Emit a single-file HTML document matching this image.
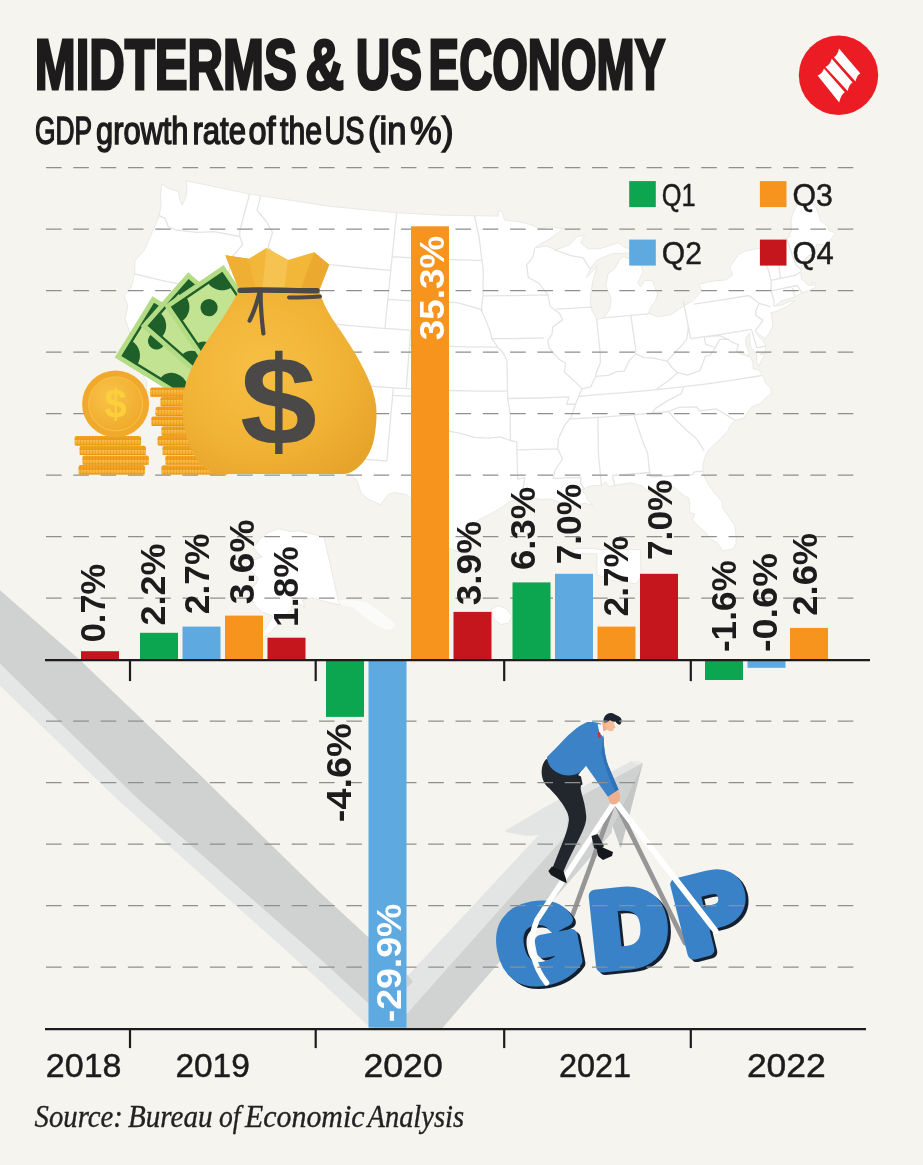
<!DOCTYPE html>
<html lang="en">
<head>
<meta charset="utf-8">
<title>Midterms &amp; US Economy</title>
<style>
html,body{margin:0;padding:0;background:#f5f4ef;}
body{width:923px;height:1165px;overflow:hidden;font-family:"Liberation Sans",sans-serif;}
svg{display:block}
.t{font-family:"Liberation Sans",sans-serif;font-weight:bold;fill:#1d1b1c}
.v{font-family:"Liberation Sans",sans-serif;font-weight:bold;font-size:35.5px;fill:#1d1b1c}
.y{font-family:"Liberation Sans",sans-serif;font-size:33px;fill:#1d1b1c;stroke:#1d1b1c;stroke-width:0.45px}
.s{font-family:"Liberation Serif",serif;font-style:italic;font-size:31.5px;fill:#222;stroke:#222;stroke-width:0.35px}
</style>
</head>
<body>
<svg width="923" height="1165" viewBox="0 0 923 1165">
<rect width="923" height="1165" fill="#f5f4ef"/>

<g id="us-map">
<path d="M161.7 183.7 L168.5 188.4 L178.3 191.5 L180.1 200.2 L182.1 205.1 L186.0 197.1 L187.1 186.9 L186.2 180.7 L249.6 194.0 L328.9 206.2 L396.6 212.7 L442.8 215.2 L498.3 216.1 L498.2 210.6 L502.2 211.7 L504.6 220.0 L518.5 221.6 L528.9 224.2 L540.7 228.6 L548.7 226.4 L562.8 228.6 L551.8 237.8 L540.4 244.1 L534.7 247.9 L545.3 246.1 L550.1 247.3 L555.0 250.0 L568.9 245.0 L577.5 236.4 L584.4 235.3 L580.5 242.8 L588.2 248.8 L600.1 248.7 L618.4 242.7 L623.7 246.6 L630.0 248.9 L633.1 253.0 L623.5 253.2 L612.7 253.5 L601.2 258.1 L595.6 261.4 L590.4 269.1 L586.4 277.5 L590.8 272.8 L597.3 265.7 L592.9 280.7 L591.0 292.6 L590.2 302.9 L592.4 311.6 L597.0 319.4 L604.5 317.4 L609.8 308.8 L611.1 298.4 L605.8 285.6 L608.0 273.7 L614.7 268.7 L619.5 259.5 L623.3 256.5 L631.7 259.8 L640.7 263.2 L643.3 271.8 L637.6 282.7 L640.7 286.8 L644.7 280.5 L652.2 280.4 L657.6 293.9 L655.6 300.8 L651.4 306.4 L648.1 313.4 L658.3 316.8 L670.8 314.6 L684.5 305.4 L693.0 300.6 L702.0 291.1 L698.6 284.5 L711.1 281.2 L726.0 279.9 L732.4 275.0 L729.8 267.2 L738.4 254.5 L744.9 251.1 L761.4 247.9 L782.5 243.6 L783.5 238.8 L788.7 237.7 L791.6 229.5 L791.0 222.0 L792.0 215.7 L797.5 203.1 L802.0 205.8 L808.0 202.1 L815.0 204.6 L820.9 221.0 L827.0 225.6 L829.3 230.3 L835.7 233.3 L830.4 240.1 L823.2 244.9 L816.6 244.2 L815.3 251.4 L808.0 256.1 L803.2 261.0 L800.8 269.2 L800.9 273.7 L801.3 279.0 L804.7 281.3 L807.9 285.2 L814.4 285.2 L811.4 281.8 L815.0 282.8 L816.1 287.1 L808.9 290.3 L804.2 292.1 L799.5 293.9 L794.6 297.2 L781.8 300.6 L774.3 306.2 L781.9 305.1 L789.9 301.2 L795.1 300.9 L787.5 306.3 L775.8 311.6 L770.8 312.6 L772.0 316.9 L772.9 325.1 L769.6 332.5 L765.2 338.6 L759.4 334.4 L755.0 330.6 L758.5 336.0 L764.0 341.8 L766.0 346.8 L764.7 354.6 L760.9 361.3 L758.9 366.9 L756.6 360.5 L756.5 354.5 L750.3 346.5 L749.8 339.0 L749.6 333.0 L745.6 338.2 L746.1 345.7 L749.2 352.7 L747.3 356.0 L740.6 351.1 L738.4 353.0 L750.3 357.1 L753.0 362.6 L753.1 368.6 L759.1 370.3 L762.5 375.4 L765.8 383.1 L770.7 388.3 L771.7 393.7 L766.0 397.4 L760.4 403.6 L752.5 406.4 L747.0 413.3 L743.2 418.3 L735.0 420.3 L729.8 426.3 L727.9 431.0 L719.6 439.7 L712.2 446.6 L707.9 450.8 L705.3 456.4 L703.0 464.1 L702.9 471.5 L704.7 477.2 L709.2 485.5 L715.3 493.7 L722.2 501.7 L722.6 507.5 L729.1 517.0 L734.6 525.1 L736.1 536.7 L736.0 544.1 L733.0 548.8 L723.1 551.2 L717.7 543.4 L709.7 538.5 L705.5 532.4 L700.0 527.9 L692.4 519.9 L694.5 513.8 L689.7 512.8 L689.8 504.0 L688.8 498.2 L682.1 494.5 L675.0 487.9 L667.0 484.3 L661.4 487.0 L653.1 492.2 L646.9 490.5 L641.8 485.8 L631.0 483.0 L619.2 484.5 L609.0 486.7 L605.6 481.8 L601.5 485.7 L592.6 485.5 L585.3 488.0 L581.1 490.4 L585.9 494.6 L587.9 500.3 L592.8 505.2 L585.1 503.4 L577.6 504.5 L567.2 506.4 L559.4 502.3 L550.2 498.9 L539.7 499.5 L529.1 496.9 L520.9 498.0 L509.8 501.8 L502.3 506.9 L490.3 514.2 L479.6 519.2 L471.9 526.3 L467.9 534.2 L467.7 542.9 L470.7 552.2 L463.6 553.2 L452.7 549.8 L440.4 544.4 L435.4 533.3 L434.2 527.5 L426.2 518.5 L419.1 508.0 L413.5 500.5 L406.4 494.6 L394.5 492.5 L388.4 494.4 L380.7 504.7 L368.3 499.2 L361.3 493.5 L356.8 480.0 L347.4 471.9 L337.0 460.7 L334.8 460.1 L310.9 457.6 L309.9 464.1 L268.0 459.0 L217.7 434.2 L219.9 431.3 L185.2 428.0 L184.5 420.8 L178.5 410.7 L172.1 407.2 L171.9 403.1 L162.7 399.3 L158.4 394.3 L146.2 391.3 L147.1 381.7 L141.0 371.3 L136.3 359.6 L139.1 353.4 L133.5 346.8 L134.9 338.7 L130.3 333.8 L125.1 318.9 L127.8 305.8 L124.0 295.6 L130.8 288.2 L134.7 273.9 L134.8 261.0 L144.0 250.3 L150.3 236.7 L159.0 216.2 L160.4 209.0 L161.3 204.7 L160.5 196.9 L161.7 183.7Z M259.6 539.3 L268.0 532.5 L278.7 528.6 L290.0 531.5 L300.0 531.0 L312.0 534.0 L324.0 537.0 L338.3 600.1 L340.6 605.0 L324.0 601.3 L312.0 597.7 L302.5 600.1 L305.0 607.3 L298.0 603.0 L295.4 600.1 L290.6 609.7 L284.0 618.0 L278.7 624.0 L269.0 633.5 L258.0 642.0 L244.0 650.0 L256.0 640.0 L266.0 628.0 L273.0 616.0 L262.0 612.0 L255.0 606.0 L252.0 600.0 L247.7 590.6 L256.0 584.0 L258.0 578.0 L250.0 570.0 L245.3 564.4 L251.3 561.0 L262.0 557.2 L257.0 552.0 L253.6 547.7Z M491.0 609.0 L498.0 605.5 L506.0 608.5 L512.0 616.0 L509.0 623.0 L501.0 624.5 L494.0 619.0Z M573.0 548.6 L597.0 548.6 L597.0 549.5 L640.5 549.5 L641.0 577.0 L636.0 584.0 L626.0 582.0 L614.0 581.0 L604.0 577.0 L597.0 575.0 L597.0 553.8 L573.0 553.8Z" fill="#ffffff" stroke="#e9e9e6" stroke-width="1"/>
<path d="M338.3 600.1 L355.0 600.3 L367.0 602.5 L381.0 612.0 L395.5 624.0 L392.0 629.0 L386.0 630.0 L376.0 625.0 L367.0 619.0 L352.6 607.3 L340.6 605.0Z" fill="#ffffff" fill-opacity="0.6"/>
<path d="M158.7 215.3 L165.1 218.4 L168.4 226.7 L176.1 230.0 L188.2 231.3 L196.6 232.4 L207.9 231.8 L215.4 231.8 L239.7 236.5 M134.7 273.9 L161.5 280.3 L188.5 286.2 L215.7 291.7 L243.0 296.6 L270.4 301.0 L297.9 304.9 M249.6 194.0 L239.8 230.6 L239.7 236.5 L242.8 244.5 L236.3 252.2 L230.2 258.5 L230.0 267.4 L223.1 293.0 M186.3 285.8 L173.1 328.3 L195.1 356.8 L229.0 398.8 L227.7 409.0 L222.5 421.6 L224.0 427.8 L219.9 431.3 M260.4 299.4 L241.0 383.6 L231.8 382.8 L229.0 398.8 M243.8 371.3 L272.8 375.7 L302.0 379.5 L331.2 382.8 L360.5 385.5 L389.9 387.7 L419.3 389.4 L448.7 390.5 L478.1 391.1 L507.5 391.2 M320.7 322.5 L297.5 462.7 M304.8 268.9 L295.2 319.3 L320.7 322.5 M320.7 322.5 L350.6 325.7 L380.6 328.2 L410.7 330.2 M306.2 261.7 L334.3 265.1 L362.5 268.0 L390.8 270.3 M260.7 196.0 L257.1 210.1 L266.7 222.0 L272.6 232.5 L268.0 247.3 L277.1 256.1 L281.2 265.6 L293.3 267.3 L304.8 268.9 M396.6 212.7 L384.9 328.5 M392.2 256.7 L422.0 258.5 L452.0 259.7 L481.9 260.3 M387.9 299.4 L422.6 301.5 L457.3 302.7 L466.1 305.1 L479.8 309.0 L483.0 310.4 M410.7 330.2 L409.6 344.8 M409.6 344.8 L439.0 346.1 L468.4 346.9 L497.8 347.1 M409.6 344.8 L406.2 388.7 M393.3 388.0 L386.8 461.0 M386.8 461.0 L334.5 456.8 M392.6 395.3 L433.8 397.4 M433.8 397.4 L432.4 425.8 L443.5 430.0 L460.4 433.4 L474.5 437.3 L488.7 438.2 L500.1 436.8 L510.4 440.5 M507.0 360.3 L507.7 398.5 L510.3 414.7 L510.4 440.5 L516.7 441.8 L517.6 479.1 L524.8 477.6 L522.9 489.3 L520.9 498.0 M516.9 449.8 L557.7 448.9 M507.7 398.5 L538.3 398.0 L568.9 396.9 L566.7 404.4 L575.7 404.0 M491.7 338.6 L517.9 338.5 L544.0 337.8 M483.0 295.8 L515.6 295.7 L548.0 294.8 M474.5 216.0 L479.2 237.6 L481.9 260.3 L483.2 269.6 L483.0 295.8 L481.1 310.4 L484.8 317.8 L490.6 332.5 L491.7 338.6 L497.8 347.1 L503.2 353.0 L507.0 360.3 M534.8 248.6 L532.8 257.4 L526.6 264.8 L528.3 277.2 L539.0 283.4 L548.0 294.8 L550.2 306.5 L559.6 313.4 L562.6 319.9 L552.8 326.9 L552.0 334.3 L547.8 340.3 L548.9 347.7 L558.8 359.1 L565.8 363.2 L564.4 372.1 L575.3 381.9 L582.0 388.9 L578.5 396.5 L575.7 404.0 L571.1 417.5 L564.7 425.1 L558.5 438.6 L557.7 448.9 L562.6 459.0 L554.6 471.0 L553.6 478.3 L581.1 477.3 L580.5 483.1 L583.9 488.8 M597.8 417.5 L598.5 454.3 L601.5 485.7 M633.9 414.9 L643.5 443.6 L647.7 453.6 L649.6 472.6 L651.0 476.9 M612.3 475.5 L650.4 472.5 M612.3 475.5 L614.9 485.6 M651.0 476.9 L680.5 475.5 L692.3 474.9 L694.7 471.7 L702.9 471.5 M568.5 419.0 L601.9 417.2 L635.3 414.7 L668.6 411.5 M578.5 396.5 L596.9 394.7 L624.6 392.7 L652.2 390.2 L679.8 387.2 L707.2 383.8 L734.6 379.9 L761.8 375.5 M582.0 388.9 L590.7 386.9 L595.7 376.3 L608.5 375.4 L616.1 371.9 L624.2 371.2 L629.4 360.4 L635.9 353.9 L643.7 357.6 L653.2 358.2 L667.1 361.1 L671.6 356.2 L676.1 351.2 L682.8 344.4 L686.5 339.4 L688.1 330.3 L688.1 325.2 M596.6 318.7 L600.3 353.8 L600.3 362.7 L596.1 373.3 L595.7 376.3 M630.9 315.9 L636.3 353.9 M603.3 317.9 L648.2 313.9 M556.2 309.2 L591.9 307.2 M555.0 250.0 L571.0 255.7 L583.2 257.9 L587.5 264.9 L590.4 269.1 M683.4 301.1 L690.7 338.6 M690.7 338.6 L721.1 334.3 L751.4 329.4 M693.7 304.2 L721.2 300.1 L748.5 295.5 M748.5 295.5 L752.4 297.9 L759.1 303.4 L755.8 310.8 L755.7 315.4 L762.9 320.1 L759.6 325.2 L755.0 330.6 M759.1 303.4 L770.4 306.6 M760.8 248.0 L764.3 262.4 L767.7 267.8 L771.1 280.3 L771.1 290.6 L774.2 301.3 L773.5 306.0 M782.5 243.6 L783.5 250.9 L780.0 257.7 L779.0 267.0 L780.5 278.4 M771.1 280.3 L795.0 275.4 L800.4 272.0 M771.2 290.9 L797.2 285.5 M792.0 286.6 L795.1 296.6 M797.2 285.5 L801.7 292.6 M786.4 238.2 L792.8 256.5 L796.2 264.9 L800.6 268.8 M751.4 329.4 L756.7 347.7 L765.8 346.1 M759.9 354.7 L764.3 353.1 M667.1 361.1 L672.3 368.0 L677.6 372.7 L687.2 375.2 L700.0 370.6 L705.3 356.4 L710.4 354.9 L715.5 347.5 L719.7 339.3 L728.1 339.3 L731.7 342.0 L738.4 344.7 L736.7 351.7 L741.0 352.6 M728.1 339.3 L719.6 335.6 L704.2 336.8 L705.7 344.4 L715.5 347.5 M677.6 372.7 L669.0 380.3 L656.7 389.0 M652.0 413.2 L668.6 411.5 L679.1 407.4 L696.6 406.8 L699.5 410.9 L716.1 408.8 L735.0 420.3 M668.6 411.5 L675.6 419.7 L687.5 431.0 L696.0 438.2 L704.2 450.6 M683.9 386.8 L681.0 393.8 L668.2 400.4 L655.5 408.4 L652.0 413.2" fill="none" stroke="#e4e4e2" stroke-width="1.3" stroke-linejoin="round"/>
</g>
<g id="trend-arrow">
<polygon points="0,590.3 81.3,661.2 200,775 320,892.5 369.5,938.3 369.5,1004.8 320,958.9 138.7,800 0,664" fill="#d0d1d1"/>
<polygon points="0,664 138.7,800 320,958.9 369.5,1004.8 369.5,1027 320,981 118,800 0,685.7" fill="#e5e6e6"/>
<polygon points="372,1014 407,976.6 538.5,835.3 565.8,835 407,1013.5" fill="#e3e4e4"/>
<polygon points="407,1013.5 565.8,835 611.5,833 442.2,1028.2 372,1028.2" fill="#d1d2d2"/>
<path d="M505.7 832 Q504.6 830.6 507 829.6 L545.2 807.1 L593.1 781.3 L631.8 761 Q638 760.4 642.9 762.9 L565.8 835 L538.5 835.3 L526.8 835.8 Z" fill="#e3e4e4"/>
<path d="M631.8 761 Q638 760.4 642.9 762.9 L636 764.6 Z" fill="#ececeb"/>
<polygon points="565.8,835 570,802 642.9,762.9 612.5,826 611.5,833" fill="#d0d1d1"/>
<polygon points="642.9,762.9 620.8,848.5 612.5,826" fill="#c5c6c6"/>
<polygon id="vx" points="407,974.5 413,981.5 407,988" fill="#d0d1d1"/>
</g>

<g id="gdp-man">
<!-- grey ropes (behind letters) -->
<g fill="none" stroke="#969696" stroke-width="4.8" stroke-linecap="round">
<line x1="613.5" y1="803" x2="566" y2="933"/>
<line x1="616" y1="803" x2="685" y2="943"/>
</g>
<!-- GDP letters: shadow then face -->
<text x="506 595.5 687" y="986 967 955" rotate="-11 -6 -14" style="font-family:'Liberation Sans',sans-serif;font-weight:bold;font-size:103px;fill:#14202f;stroke:#14202f;stroke-width:12.5px;stroke-linejoin:round" transform="translate(3,2.5)">GDP</text>
<text x="506 595.5 687" y="986 967 955" rotate="-11 -6 -14" style="font-family:'Liberation Sans',sans-serif;font-weight:bold;font-size:103px;fill:#3a82c8;stroke:#3a82c8;stroke-width:12.5px;stroke-linejoin:round">GDP</text>
<!-- white ropes -->
<g fill="none" stroke="#ffffff" stroke-linecap="round" stroke-linejoin="round">
<path d="M613.2 804 L536.9 920 C531 935 531 948 533.6 956 C536 967 541 976 546.6 983" stroke-width="5.4"/>
<path d="M616.5 803 L715.6 931" stroke-width="6"/>
</g>
<!-- man: far leg -->
<path d="M572 772 L581 776.5 L582.6 784.5 L576 786 Z" fill="#1f242b"/>
<path d="M591.5 836 L597.5 834 L604 846 L600 850.5 L594 848 Z" fill="#1f242b"/>
<path d="M596 845 L604 848 L613 852 L612 856 L603 860 L598 856 Z" fill="#14181d"/>
<!-- near leg / trousers -->
<path d="M546.3 759 C541.5 764 540.8 772 542.4 778 C544 783 546 786 549.5 788.4 C556 795 560 800 562.5 804 C567 811 569.5 816 568.8 821 C568 828 566 833 564.5 837.5 L552.6 867.8 L563.4 871.5 C569 858 576 845 581.8 833 C585 826 586.6 821 586.2 815.8 C585.5 807 583.5 800 581.8 794 C580.5 789 580 786 582 784.5 L576.8 776.7 L585 766 L560 762 Z" fill="#22272e"/>
<path d="M552 866.5 L548.3 871.1 L551 875 L561.3 880.8 L566.7 883.3 L566 879 L563.4 871 Z" fill="#14181d"/>
<!-- jacket body -->
<path d="M587.2 722.1 C582 724.5 577 727.5 572.9 731.2 C566 737 560.5 743 556 748.1 C552 752 549 755 546.9 757.2 C547.5 762 548.8 765 550.8 767.6 C554 771.5 558 773.6 562.5 774.8 C566.5 775.6 570.5 775.6 574.2 774.8 C577.5 773.8 580 772.2 582 770.2 C583.6 768.8 585 767.2 585.9 765.7 L604 740 L601 723.5 C596.5 722 592 721.6 587.2 722.1 Z" fill="#3b82c6"/>
<!-- arm -->
<path d="M597 724 C601 726 603 731 603.5 737.7 C603.8 743 604.2 748 604.8 752 C605.6 757 606.6 761 608 765 L618.6 789.7 L608.3 797.2 L585.9 765.7 C586 752 589 735 597 724 Z" fill="#3b82c6"/>
<path d="M603.5 737.7 C603.8 743 604.2 748 604.8 752 C605.6 757 606.6 761 608 765 L618.6 789.7 L615.5 792 C610 780 604 766 601.5 752 Z" fill="#2f73b6"/>
<!-- hand -->
<path d="M608.3 796.5 L618 790 C620 793 620.5 797 619.5 800.5 C618 803.5 614.5 805 611.5 804.2 C609.3 802.5 608.3 799.5 608.3 796.5 Z" fill="#f0b08d"/>
<!-- shirt, tie, neck, face, hair -->
<path d="M597.6 724 L602.8 724.7 L603.4 737 L599.5 733 Z" fill="#ffffff"/>
<path d="M598.2 731.5 L600.3 732.8 L600.6 738 L597.8 737.2 Z" fill="#c0392b"/>
<path d="M602.2 722 L606 720.5 L608.5 729 L603.4 731.5 Z" fill="#f0b08d"/>
<path d="M604.8 720.5 C607 719 611 718.5 613.5 720.5 L614.2 724.5 L615.6 727.6 L613.8 728.4 L613.5 730.6 C611.5 731.6 609.5 731.4 608 730.6 C606 728 605 724.5 604.8 720.5 Z" fill="#f4bc98"/>
<path d="M603.5 719.8 C604 716 607 713 610.8 713 C613.5 713 615 714.5 617 715.5 C620 716.6 622 718.6 621.6 721.2 C621.2 723.4 620.4 724.6 619.4 724.8 C617.6 724.6 616.4 723 615.4 721.6 C613 721.8 611.5 721 610 720 C608.4 721.6 606.5 722.6 604.6 722.6 C603.8 721.8 603.4 720.8 603.5 719.8 Z" fill="#1c2431"/>
</g>

<g stroke="#8f8f8d" stroke-width="1.25" stroke-dasharray="15.6 11.7" fill="none">
<line x1="46" y1="167.6" x2="855.5" y2="167.6"/>
<line x1="46" y1="229.1" x2="855.5" y2="229.1"/>
<line x1="46" y1="290.6" x2="855.5" y2="290.6"/>
<line x1="46" y1="352.1" x2="855.5" y2="352.1"/>
<line x1="46" y1="413.6" x2="855.5" y2="413.6"/>
<line x1="46" y1="475.0" x2="855.5" y2="475.0"/>
<line x1="46" y1="536.5" x2="855.5" y2="536.5"/>
<line x1="46" y1="598.0" x2="855.5" y2="598.0"/>
<line x1="46" y1="721.0" x2="855.5" y2="721.0"/>
<line x1="46" y1="782.5" x2="855.5" y2="782.5"/>
<line x1="46" y1="844.0" x2="855.5" y2="844.0"/>
<line x1="46" y1="905.5" x2="855.5" y2="905.5"/>
<line x1="46" y1="967.0" x2="855.5" y2="967.0"/>
</g>
<text class="v" transform="translate(104.5,642.3) rotate(-90)" textLength="78.4" lengthAdjust="spacingAndGlyphs" style="fill:#1d1b1c">0.7%</text>
<text class="v" transform="translate(164.8,625.5) rotate(-90)" textLength="82.0" lengthAdjust="spacingAndGlyphs" style="fill:#1d1b1c">2.2%</text>
<text class="v" transform="translate(209.3,614.2) rotate(-90)" textLength="80.5" lengthAdjust="spacingAndGlyphs" style="fill:#1d1b1c">2.7%</text>
<text class="v" transform="translate(254.4,604.3) rotate(-90)" textLength="84.8" lengthAdjust="spacingAndGlyphs" style="fill:#1d1b1c">3.6%</text>
<text class="v" transform="translate(298.0,626.9) rotate(-90)" textLength="80.4" lengthAdjust="spacingAndGlyphs" style="fill:#1d1b1c">1.8%</text>
<text class="v" transform="translate(351.1,822.2) rotate(-90)" textLength="98.8" lengthAdjust="spacingAndGlyphs" style="fill:#1d1b1c">-4.6%</text>
<text class="v" transform="translate(481.3,605.2) rotate(-90)" textLength="84.2" lengthAdjust="spacingAndGlyphs" style="fill:#1d1b1c">3.9%</text>
<text class="v" transform="translate(535.3,570.0) rotate(-90)" textLength="83.3" lengthAdjust="spacingAndGlyphs" style="fill:#1d1b1c">6.3%</text>
<text class="v" transform="translate(581.3,564.3) rotate(-90)" textLength="80.4" lengthAdjust="spacingAndGlyphs" style="fill:#1d1b1c">7.0%</text>
<text class="v" transform="translate(627.8,616.5) rotate(-90)" textLength="80.5" lengthAdjust="spacingAndGlyphs" style="fill:#1d1b1c">2.7%</text>
<text class="v" transform="translate(671.9,560.1) rotate(-90)" textLength="80.6" lengthAdjust="spacingAndGlyphs" style="fill:#1d1b1c">7.0%</text>
<text class="v" transform="translate(735.8,652.1) rotate(-90)" textLength="91.9" lengthAdjust="spacingAndGlyphs" style="fill:#1d1b1c">-1.6%</text>
<text class="v" transform="translate(776.5,652.1) rotate(-90)" textLength="99.0" lengthAdjust="spacingAndGlyphs" style="fill:#1d1b1c">-0.6%</text>
<text class="v" transform="translate(817.0,615.7) rotate(-90)" textLength="82.9" lengthAdjust="spacingAndGlyphs" style="fill:#1d1b1c">2.6%</text>
<g id="money">
<defs>
<radialGradient id="bagG" cx="0.40" cy="0.42" r="0.70">
<stop offset="0" stop-color="#f6bf45"/><stop offset="0.6" stop-color="#f1b336"/><stop offset="1" stop-color="#e7a42b"/>
</radialGradient>
<linearGradient id="coinEdge" x1="0" y1="0" x2="0" y2="1">
<stop offset="0" stop-color="#f9c04a"/><stop offset="0.5" stop-color="#f5a623"/><stop offset="1" stop-color="#ee9a1b"/>
</linearGradient>
<pattern id="ridges" width="3" height="10" patternUnits="userSpaceOnUse">
<rect width="3" height="10" fill="url(#coinEdge)"/><rect x="2" width="1" height="10" fill="#e8951a" opacity="0.55"/>
</pattern>
<radialGradient id="coinG" cx="0.4" cy="0.35" r="0.75">
<stop offset="0" stop-color="#f8c34a"/><stop offset="1" stop-color="#f0a828"/>
</radialGradient>
</defs>
<g transform="translate(114.7,357.5) rotate(-58.4)"><rect x="0" y="0" width="72" height="135" fill="#b4dc84"/><rect x="6" y="6" width="60" height="123" fill="#c2e392" stroke="#1f5f2a" stroke-width="2.4"/><path d="M6 6 h17 a17 17 0 0 1 -17 17 z" fill="#1f5f2a"/><path d="M66 6 h-17 a17 17 0 0 0 17 17 z" fill="#1f5f2a"/><circle cx="36" cy="27" r="8.6" fill="#1f5f2a"/><path d="M6 50 a13 15 0 0 1 0 30 z" fill="#1f5f2a"/><path d="M66 50 a13 15 0 0 0 0 30 z" fill="#1f5f2a"/></g>
<g transform="translate(140.7,326.3) rotate(-48.7)"><rect x="0" y="0" width="72" height="135" fill="#b4dc84"/><rect x="6" y="6" width="60" height="123" fill="#c2e392" stroke="#1f5f2a" stroke-width="2.4"/><path d="M6 6 h17 a17 17 0 0 1 -17 17 z" fill="#1f5f2a"/><path d="M66 6 h-17 a17 17 0 0 0 17 17 z" fill="#1f5f2a"/><circle cx="36" cy="27" r="8.6" fill="#1f5f2a"/><path d="M6 50 a13 15 0 0 1 0 30 z" fill="#1f5f2a"/><path d="M66 50 a13 15 0 0 0 0 30 z" fill="#1f5f2a"/></g>
<g transform="translate(164.1,305.5) rotate(-34.2)"><rect x="0" y="0" width="72" height="135" fill="#b4dc84"/><rect x="6" y="6" width="60" height="123" fill="#c2e392" stroke="#1f5f2a" stroke-width="2.4"/><path d="M6 6 h17 a17 17 0 0 1 -17 17 z" fill="#1f5f2a"/><path d="M66 6 h-17 a17 17 0 0 0 17 17 z" fill="#1f5f2a"/><circle cx="36" cy="27" r="8.6" fill="#1f5f2a"/><path d="M6 50 a13 15 0 0 1 0 30 z" fill="#1f5f2a"/><path d="M66 50 a13 15 0 0 0 0 30 z" fill="#1f5f2a"/></g>
<rect x="74.6" y="436.0" width="66.5" height="9.4" rx="2.2" fill="url(#ridges)"/><rect x="74.6" y="444.2" width="66.5" height="1.2" rx="0.6" fill="#e08e15" opacity="0.6"/>
<rect x="79.5" y="445.7" width="66.5" height="9.4" rx="2.2" fill="url(#ridges)"/><rect x="79.5" y="453.9" width="66.5" height="1.2" rx="0.6" fill="#e08e15" opacity="0.6"/>
<rect x="82.4" y="455.4" width="66.5" height="9.4" rx="2.2" fill="url(#ridges)"/><rect x="82.4" y="463.6" width="66.5" height="1.2" rx="0.6" fill="#e08e15" opacity="0.6"/>
<rect x="78.5" y="465.1" width="66.5" height="9.4" rx="2.2" fill="url(#ridges)"/><rect x="78.5" y="473.3" width="66.5" height="1.2" rx="0.6" fill="#e08e15" opacity="0.6"/>
<rect x="150.1" y="387.4" width="66.5" height="9.4" rx="2.2" fill="url(#ridges)"/><rect x="150.1" y="395.6" width="66.5" height="1.2" rx="0.6" fill="#e08e15" opacity="0.6"/>
<rect x="160.4" y="397.1" width="66.5" height="9.4" rx="2.2" fill="url(#ridges)"/><rect x="160.4" y="405.3" width="66.5" height="1.2" rx="0.6" fill="#e08e15" opacity="0.6"/>
<rect x="155.6" y="406.8" width="66.5" height="9.4" rx="2.2" fill="url(#ridges)"/><rect x="155.6" y="415.0" width="66.5" height="1.2" rx="0.6" fill="#e08e15" opacity="0.6"/>
<rect x="151.3" y="416.6" width="66.5" height="9.4" rx="2.2" fill="url(#ridges)"/><rect x="151.3" y="424.8" width="66.5" height="1.2" rx="0.6" fill="#e08e15" opacity="0.6"/>
<rect x="161.4" y="426.3" width="66.5" height="9.4" rx="2.2" fill="url(#ridges)"/><rect x="161.4" y="434.5" width="66.5" height="1.2" rx="0.6" fill="#e08e15" opacity="0.6"/>
<rect x="157.5" y="436.0" width="66.5" height="9.4" rx="2.2" fill="url(#ridges)"/><rect x="157.5" y="444.2" width="66.5" height="1.2" rx="0.6" fill="#e08e15" opacity="0.6"/>
<rect x="162.4" y="445.7" width="66.5" height="9.4" rx="2.2" fill="url(#ridges)"/><rect x="162.4" y="453.9" width="66.5" height="1.2" rx="0.6" fill="#e08e15" opacity="0.6"/>
<rect x="165.3" y="455.4" width="66.5" height="9.4" rx="2.2" fill="url(#ridges)"/><rect x="165.3" y="463.6" width="66.5" height="1.2" rx="0.6" fill="#e08e15" opacity="0.6"/>
<rect x="161.4" y="465.2" width="66.5" height="9.4" rx="2.2" fill="url(#ridges)"/><rect x="161.4" y="473.4" width="66.5" height="1.2" rx="0.6" fill="#e08e15" opacity="0.6"/>
<circle cx="115.6" cy="403.9" r="33.5" fill="#f0a92b"/>
<circle cx="115.6" cy="403.9" r="27" fill="url(#coinG)" stroke="#f7c955" stroke-width="0.8"/>
<text x="115.6" y="417.5" text-anchor="middle" style="font-family:'Liberation Sans',sans-serif;font-weight:bold;font-size:40px;fill:#fbd03a">$</text>
<path d="M225.3 255.3 L248.7 258.8 L266.5 248.1 L288 260 L314.2 252.2 L329.2 264.8 L319 291 L239.5 291 Z" fill="#f2b638"/>
<path d="M225.3 255.3 L248.7 258.8 L256 291 L239.5 291 Z" fill="#eeaf33"/>
<path d="M266.5 248.1 L288 260 L284 291 L262 291 Z" fill="#f6c250"/>
<path d="M314.2 252.2 L329.2 264.8 L319 291 L300 291 Z" fill="#ebaa2f"/>
<path d="M239.1 291 C232 303 225 315 217.7 325.6 C210 337 202 348 196.2 359 C189 372 184.5 385 183.1 397.1 C181.8 408 182.5 417 184.3 425.7 C186 436 188 443 191.5 449.5 C195 457 199 462.5 203.4 466.2 C208 470.5 212 473 219 474 L345 474 C353 472.5 360 467 365.5 459 C371 451 374 442 375 432.9 C376.5 424 376.8 415 376.2 406.6 C375 396 372 387 367.9 378 C363 367 357.5 357 351.2 347 C345 337 338.5 327.5 332.1 318.4 C327 310 323 303 319.5 291 Z" fill="url(#bagG)"/>
<g fill="none" stroke="#4a4947" stroke-linecap="round">
<path d="M240 290.4 C262 289 296 291 317 290.8" stroke-width="5.4"/>
<path d="M289 297.4 C300 297.6 311 297 320 296.4" stroke-width="4.0"/>
<path d="M259.6 292 C257 303 254 312 249.6 320.6" stroke-width="4.2"/>
<path d="M260.6 293 C260.6 308 262 322 263.4 333.5" stroke-width="4.2"/>
</g>
<text transform="translate(278.4,444.8) scale(1.10,1)" text-anchor="middle" style="font-family:'Liberation Sans',sans-serif;font-weight:bold;font-size:125.8px;fill:#4a4947">$</text>
</g>
<rect x="81" y="651.2" width="38" height="8.9" fill="#c5161d"/>
<rect x="140" y="632.8" width="38" height="27.3" fill="#0da650"/>
<rect x="182.5" y="626.6" width="38" height="33.5" fill="#5ea9df"/>
<rect x="225" y="615.6" width="38" height="44.5" fill="#f7941e"/>
<rect x="267.5" y="637.7" width="38" height="22.4" fill="#c5161d"/>
<rect x="326" y="660.1" width="38" height="56.8" fill="#0da650"/>
<rect x="368.5" y="660.1" width="38" height="367.5" fill="#5ea9df"/>
<rect x="411" y="226.3" width="38" height="433.8" fill="#f7941e"/>
<rect x="453.5" y="611.9" width="38" height="48.2" fill="#c5161d"/>
<rect x="512.5" y="582.4" width="38" height="77.7" fill="#0da650"/>
<rect x="555" y="573.8" width="38" height="86.3" fill="#5ea9df"/>
<rect x="597.5" y="626.6" width="38" height="33.5" fill="#f7941e"/>
<rect x="640" y="573.8" width="38" height="86.3" fill="#c5161d"/>
<rect x="705" y="660.1" width="38" height="19.9" fill="#0da650"/>
<rect x="747.5" y="660.1" width="38" height="7.7" fill="#5ea9df"/>
<rect x="790" y="627.9" width="38" height="32.2" fill="#f7941e"/>
<g stroke="#1d1b1c" stroke-width="2.2" fill="none">
<line x1="45" y1="660.1" x2="870" y2="660.1"/>
<line x1="45" y1="1029.1" x2="866" y2="1029.1"/>
<line x1="130" y1="660.1" x2="130" y2="681.1"/>
<line x1="130" y1="1029.1" x2="130" y2="1048.1"/>
<line x1="315.7" y1="660.1" x2="315.7" y2="681.1"/>
<line x1="315.7" y1="1029.1" x2="315.7" y2="1048.1"/>
<line x1="504.2" y1="660.1" x2="504.2" y2="681.1"/>
<line x1="504.2" y1="1029.1" x2="504.2" y2="1048.1"/>
<line x1="690.8" y1="660.1" x2="690.8" y2="681.1"/>
<line x1="690.8" y1="1029.1" x2="690.8" y2="1048.1"/>
</g>
<text class="v" transform="translate(400.6,1022.3) rotate(-90)" textLength="118.7" lengthAdjust="spacingAndGlyphs" style="fill:#fff">-29.9%</text>
<text class="v" transform="translate(443.7,340.3) rotate(-90)" textLength="104.6" lengthAdjust="spacingAndGlyphs" style="fill:#fff">35.3%</text>
<text class="y" x="45.8" y="1077.3" textLength="75.7" lengthAdjust="spacingAndGlyphs">2018</text>
<text class="y" x="175.4" y="1077.3" textLength="74.4" lengthAdjust="spacingAndGlyphs">2019</text>
<text class="y" x="363.4" y="1077.3" textLength="79.4" lengthAdjust="spacingAndGlyphs">2020</text>
<text class="y" x="558.9" y="1077.3" textLength="72.2" lengthAdjust="spacingAndGlyphs">2021</text>
<text class="y" x="746.9" y="1077.3" textLength="78.9" lengthAdjust="spacingAndGlyphs">2022</text>
<rect x="629.2" y="181.1" width="26.6" height="26" fill="#0da650"/>
<text x="661.8" y="205.5" textLength="33.9" lengthAdjust="spacingAndGlyphs" style="font-family:'Liberation Sans',sans-serif;font-size:32px;fill:#1d1b1c;stroke:#1d1b1c;stroke-width:0.45px">Q1</text>
<rect x="759.9" y="181.1" width="26.6" height="26" fill="#f7941e"/>
<text x="792.5" y="205.5" textLength="40.4" lengthAdjust="spacingAndGlyphs" style="font-family:'Liberation Sans',sans-serif;font-size:32px;fill:#1d1b1c;stroke:#1d1b1c;stroke-width:0.45px">Q3</text>
<rect x="629.2" y="239.6" width="26.6" height="26" fill="#5ea9df"/>
<text x="661.8" y="264.0" textLength="40.1" lengthAdjust="spacingAndGlyphs" style="font-family:'Liberation Sans',sans-serif;font-size:32px;fill:#1d1b1c;stroke:#1d1b1c;stroke-width:0.45px">Q2</text>
<rect x="759.9" y="239.6" width="26.6" height="26" fill="#c5161d"/>
<text x="792.5" y="264.0" textLength="41.3" lengthAdjust="spacingAndGlyphs" style="font-family:'Liberation Sans',sans-serif;font-size:32px;fill:#1d1b1c;stroke:#1d1b1c;stroke-width:0.45px">Q4</text>
<g style="font-family:'Liberation Sans',sans-serif;font-weight:bold;fill:#1d1b1c;stroke:#1d1b1c;stroke-width:3px">
<text x="34.7" y="88.8" textLength="262.1" lengthAdjust="spacingAndGlyphs" style="font-size:71px">MIDTERMS</text>
<text x="305.5" y="88.8" textLength="38.5" lengthAdjust="spacingAndGlyphs" style="font-size:71px">&amp;</text>
<text x="355.8" y="88.8" textLength="66.2" lengthAdjust="spacingAndGlyphs" style="font-size:71px">US</text>
<text x="428.6" y="88.8" textLength="236.6" lengthAdjust="spacingAndGlyphs" style="font-size:71px">ECONOMY</text>
</g>
<g style="font-family:'Liberation Sans',sans-serif;fill:#1d1b1c;stroke:#1d1b1c;stroke-width:1.5px">
<text x="35.0" y="143.5" textLength="57.0" lengthAdjust="spacingAndGlyphs" style="font-size:38.5px">GDP</text>
<text x="96.0" y="143.5" textLength="92.5" lengthAdjust="spacingAndGlyphs" style="font-size:38.5px">growth</text>
<text x="192.5" y="143.5" textLength="53.5" lengthAdjust="spacingAndGlyphs" style="font-size:38.5px">rate</text>
<text x="248.5" y="143.5" textLength="27.0" lengthAdjust="spacingAndGlyphs" style="font-size:38.5px">of</text>
<text x="280.0" y="143.5" textLength="42.0" lengthAdjust="spacingAndGlyphs" style="font-size:38.5px">the</text>
<text x="324.5" y="143.5" textLength="40.0" lengthAdjust="spacingAndGlyphs" style="font-size:38.5px">US</text>
<text x="368.0" y="143.5" textLength="38.5" lengthAdjust="spacingAndGlyphs" style="font-size:38.5px">(in</text>
<text x="410.0" y="143.5" textLength="43.5" lengthAdjust="spacingAndGlyphs" style="font-size:38.5px">%)</text>
</g>
<g id="logo">
<circle cx="838.5" cy="75.3" r="39.7" fill="#ec1c24"/>
<g fill="#ffffff">
<path d="M839.0 48.4 L860.4 73.4 Q856.9 75.0 855.5 81.6 L833.8 57.2 Q837.5 55.3 839.0 48.4 Z"/>
<path d="M831.8 58.8 L852.6 82.5 Q849.1 84.3 847.7 91.1 L825.4 67.0 Q829.7 65.4 831.8 58.8 Z"/>
<path d="M824.0 68.6 L844.8 92.3 Q840.9 94.9 839.2 102.4 L817.6 75.4 Q821.9 74.5 824.0 68.6 Z"/>
</g>
</g>

<g style="font-family:'Liberation Serif',serif;font-style:italic;fill:#222;stroke:#222;stroke-width:0.35px">
<text x="34.6" y="1127.3" textLength="88.2" lengthAdjust="spacingAndGlyphs" style="font-size:31.5px">Source:</text>
<text x="128.0" y="1127.3" textLength="84.5" lengthAdjust="spacingAndGlyphs" style="font-size:31.5px">Bureau</text>
<text x="219.0" y="1127.3" textLength="21.5" lengthAdjust="spacingAndGlyphs" style="font-size:31.5px">of</text>
<text x="245.0" y="1127.3" textLength="119.5" lengthAdjust="spacingAndGlyphs" style="font-size:31.5px">Economic</text>
<text x="367.5" y="1127.3" textLength="96.5" lengthAdjust="spacingAndGlyphs" style="font-size:31.5px">Analysis</text>
</g>
</svg>
</body>
</html>
